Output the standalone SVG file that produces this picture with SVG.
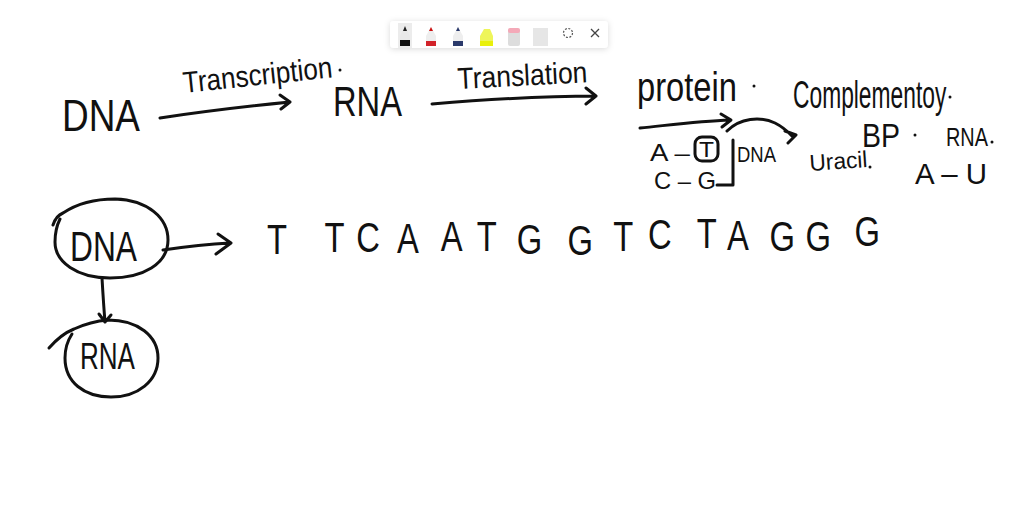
<svg xmlns="http://www.w3.org/2000/svg" width="1024" height="512" viewBox="0 0 1024 512">
<defs>
<filter id="sh" x="-10%" y="-50%" width="120%" height="200%"><feDropShadow dx="0" dy="1" stdDeviation="3" flood-color="#000" flood-opacity="0.15"/></filter>
</defs>
<style>
.t{font-family:"Liberation Sans","DejaVu Sans",sans-serif;fill:#111;}
.s{fill:none;stroke:#111;stroke-width:3;stroke-linecap:round;stroke-linejoin:round;}
</style>
<rect width="1024" height="512" fill="#fff"/>
<g id="toolbar">
<rect x="390" y="21" width="218" height="27" rx="4" fill="#fff" filter="url(#sh)"/>
<rect x="398" y="23" width="14" height="25" fill="#ececec"/>
<path d="M400,46 L400,36 L405,26 L410,36 L410,46 Z" fill="#e8e8e8"/><rect x="400" y="40" width="10" height="6" fill="#111"/><path d="M403,31 L405,26 L407,31Z" fill="#222"/>
<path d="M426,46 L426,36 L431,27 L436,36 L436,46 Z" fill="#eee"/><rect x="426" y="41" width="10" height="5" fill="#d2232a"/><path d="M429,31 L431,27 L433,31Z" fill="#c11"/>
<path d="M453,46 L453,36 L458,27 L463,36 L463,46 Z" fill="#eee"/><rect x="453" y="41" width="10" height="5" fill="#2b3a6b"/><path d="M456,31 L458,27 L460,31Z" fill="#2b3a6b"/>
<path d="M480,46 L480,36 L484,29 L490,29 L493,36 L493,46 Z" fill="#eef55a"/><rect x="480" y="41" width="13" height="5" fill="#e9f00a"/>
<rect x="508" y="29" width="12" height="17" rx="2" fill="#ddd"/><rect x="508" y="28" width="12" height="5" rx="2" fill="#f4a9b8"/>
<rect x="533" y="28" width="15" height="18" fill="#e6e6e6"/>
<circle cx="568" cy="33" r="4.5" fill="none" stroke="#555" stroke-width="1.2" stroke-dasharray="2 1.5"/>
<path d="M591,29 L599,37 M599,29 L591,37" stroke="#444" stroke-width="1.3"/>
</g>
<g id="dna-top"><text class="t" font-size="44" x="62" y="131" textLength="78" lengthAdjust="spacingAndGlyphs">DNA</text></g>
<g id="rna-top"><text class="t" font-size="42" x="333" y="116" textLength="69" lengthAdjust="spacingAndGlyphs">RNA</text></g>
<g id="protein"><text class="t" font-size="40" x="637" y="101" textLength="100" lengthAdjust="spacingAndGlyphs">protein</text><circle cx="754" cy="86" r="1.5" fill="#111"/></g>
<g id="complementary"><text class="t" font-size="38" transform="translate(793,108) scale(0.6,1)" x="0" y="0">Complementoy</text><circle cx="950" cy="97" r="1.5" fill="#111"/></g>
<g id="labels">
<text class="t" font-size="30" x="184" y="93" transform="rotate(-6 184 93)" textLength="150" lengthAdjust="spacingAndGlyphs">Transcription</text><circle cx="340" cy="70" r="1.5" fill="#111"/>
<text class="t" font-size="30" x="458" y="89" transform="rotate(-3 458 89)" textLength="130" lengthAdjust="spacingAndGlyphs">Translation</text>
</g>
<g id="pairs">
<text class="t" font-size="24" x="650" y="161" textLength="40" lengthAdjust="spacingAndGlyphs">A –</text>
<rect x="695" y="137" width="23" height="24" rx="7" class="s" stroke-width="2.5"/>
<text class="t" font-size="22" x="699" y="157" textLength="15" lengthAdjust="spacingAndGlyphs">T</text>
<text class="t" font-size="24" x="654" y="189" textLength="62" lengthAdjust="spacingAndGlyphs">C – G</text>
<path class="s" d="M733,140 L733,185 L717,185"/>
<text class="t" font-size="22" x="737" y="162" textLength="39" lengthAdjust="spacingAndGlyphs">DNA</text>
<text class="t" font-size="23" x="810" y="171" transform="rotate(-4 810 171)" textLength="58" lengthAdjust="spacingAndGlyphs">Uracil</text><circle cx="870" cy="167" r="1.5" fill="#111"/>
<text class="t" font-size="33" x="862" y="147" textLength="38" lengthAdjust="spacingAndGlyphs">BP</text><circle cx="915" cy="135" r="1.5" fill="#111"/>
<text class="t" font-size="26" x="946" y="146" textLength="42" lengthAdjust="spacingAndGlyphs">RNA</text><circle cx="992" cy="142" r="1.5" fill="#111"/>
<text class="t" font-size="30" x="915" y="184" textLength="72" lengthAdjust="spacingAndGlyphs">A – U</text>
</g>
<g id="dna-node">
<path class="s" d="M53,225 C55,219 58,215 63,213 C78,203 95,199 115,199 C148,200 168,218 168,240 C168,264 143,278 110,278 C77,278 55,262 55,242 C55,232 57,225 60,219"/>
<text class="t" font-size="42" x="70" y="261" textLength="67" lengthAdjust="spacingAndGlyphs">DNA</text>
</g>
<g id="rna-node">
<path class="s" d="M49,348 C56,340 64,333 74,329 C85,324 96,321 108,320 C138,320 158,336 158,358 C158,381 138,397 111,397 C84,397 65,382 65,358 C65,348 68,340 72,334"/>
<text class="t" font-size="36" x="80" y="369" textLength="55" lengthAdjust="spacingAndGlyphs">RNA</text>
</g>
<g id="sequence" class="t" font-size="42" text-anchor="middle" transform="scale(0.78,1)">
<text x="355" y="254">T</text><text x="429" y="252">T</text><text x="472" y="252">C</text><text x="523" y="253">A</text><text x="579" y="251">A</text><text x="624" y="251">T</text>
<text x="679" y="254">G</text><text x="744" y="255">G</text><text x="799" y="251">T</text><text x="846" y="249">C</text><text x="906" y="248">T</text><text x="946" y="250">A</text><text x="1003" y="251">G</text><text x="1049" y="251">G</text><text x="1112" y="246">G</text>
</g>
<g id="connectors">
<path class="s" d="M160,118 C200,112 250,106 290,102 M280,95 L290,102 L281,109"/>
<path class="s" d="M432,104 C480,100 540,96 596,96 M586,88 L596,96 L586,104"/>
<path class="s" d="M640,128 C670,125 700,121 730,120 M721,114 L731,120 L722,127"/>
<path class="s" d="M727,131 C740,118 760,116 775,123 C785,128 790,134 793,137 M785,131 L796,135 L788,143"/>
<path class="s" d="M163,250 C190,246 210,244 230,243 M218,234 L231,243 L216,254"/>
<path class="s" d="M102,278 C103,295 104,310 105,322 M99,314 L105,322 L111,315"/>
</g>
</svg>
